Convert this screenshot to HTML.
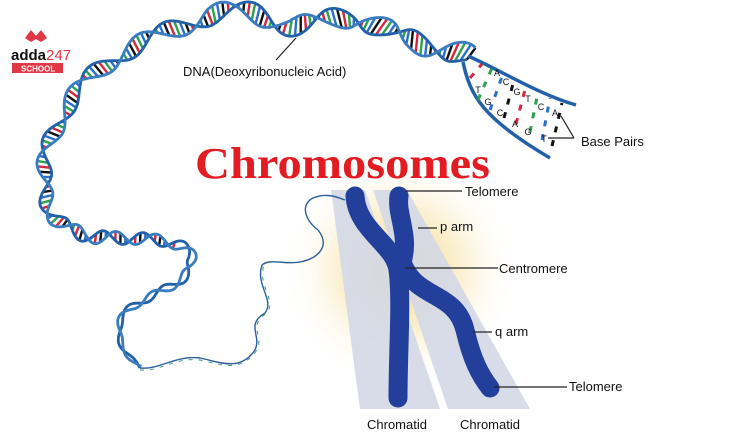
<!DOCTYPE html>
<html><head><meta charset="utf-8"><style>
html,body{margin:0;padding:0;background:#fff;width:730px;height:434px;overflow:hidden}
svg{display:block}
text{font-family:"Liberation Sans",Arial,sans-serif;fill:#111}
</style></head><body>
<svg id="s" width="730" height="434" viewBox="0 0 730 434" xmlns="http://www.w3.org/2000/svg">
<defs>
<radialGradient id="glow" cx="400" cy="270" r="120" gradientUnits="userSpaceOnUse">
<stop offset="0" stop-color="#f2cf6a" stop-opacity="0.9"/>
<stop offset="0.5" stop-color="#f6e0a0" stop-opacity="0.5"/>
<stop offset="1" stop-color="#fff" stop-opacity="0"/>
</radialGradient>
</defs>
<circle cx="400" cy="270" r="125" fill="url(#glow)"/>
<polygon points="331,190 365,190 440,409 360,409" fill="#d3d8e6" opacity="0.9"/>
<polygon points="373,190 407,190 530,409 448,409" fill="#d3d8e6" opacity="0.9"/>
<!-- thin strand -->
<path d="M140,368 C160,370 175,355 200,358 C220,362 240,372 255,350 C262,335 245,325 265,313 C275,300 255,285 262,265 C270,258 285,265 300,262 C320,258 330,245 318,230 C305,220 300,205 313,198 C325,193 335,196 345,200" fill="none" stroke="#2c5f9a" stroke-width="1.4"/>
<path d="M140,370 C160,372 175,357 200,360 C220,364 240,374 257,350 C264,335 247,325 267,313 C277,300 257,285 264,265" fill="none" stroke="#3a9a7a" stroke-width="1" stroke-dasharray="4 6"/>
<g id="helix"></g>
<!-- chromosome -->
<path d="M355,196 C357,230 395,245 398,270 C402,300 398,350 398,398" fill="none" stroke="#213f9b" stroke-width="19" stroke-linecap="round"/>
<path d="M399,196 C396,215 410,235 402,262 C415,300 455,290 465,330 C472,360 480,375 490,388" fill="none" stroke="#213f9b" stroke-width="19" stroke-linecap="round"/>
<g stroke="#222" stroke-width="1.2">
<line x1="406" y1="191" x2="462" y2="191"/>
<line x1="418" y1="228" x2="437" y2="228"/>
<line x1="405" y1="268" x2="498" y2="268"/>
<line x1="473" y1="332" x2="492" y2="332"/>
<line x1="494" y1="387" x2="567" y2="387"/>
<line x1="296" y1="38" x2="276" y2="60"/>
<line x1="561" y1="116" x2="574" y2="138"/>
<line x1="548" y1="138" x2="574" y2="138"/>
</g>
<text x="465" y="196" font-size="13">Telomere</text>
<text x="440" y="231" font-size="13">p arm</text>
<text x="499" y="273" font-size="13">Centromere</text>
<text x="495" y="336" font-size="13">q arm</text>
<text x="569" y="391" font-size="13">Telomere</text>
<text x="367" y="429" font-size="13">Chromatid</text>
<text x="460" y="429" font-size="13">Chromatid</text>
<text x="183" y="76" font-size="13">DNA(Deoxyribonucleic Acid)</text>
<text x="581" y="146" font-size="13">Base Pairs</text>
<g font-size="9" text-anchor="middle">
<text x="478" y="93">T</text><text x="497" y="76">A</text><text x="488" y="105">G</text><text x="506" y="85">C</text><text x="517" y="95">G</text><text x="500" y="116">C</text><text x="528" y="102">T</text><text x="541" y="110">C</text><text x="515" y="127">A</text><text x="528" y="135">G</text><text x="555" y="116">A</text><text x="544" y="142">T</text>
</g>
<text x="195" y="178" font-weight="bold" font-size="44" style="fill:#e31b23;font-family:'Liberation Serif',serif" textLength="295" lengthAdjust="spacingAndGlyphs">Chromosomes</text>
<!-- logo -->
<path d="M25,38 L31,30 L36,36 L41,30 L47,38 L41,42 L36,39 L31,42 Z" fill="#e23744"/>
<text x="11" y="60" font-size="15" font-weight="bold">adda<tspan style="fill:#e23744" font-weight="normal">247</tspan></text>
<rect x="12" y="63" width="51" height="10" fill="#e23744"/>
<text x="21" y="71.5" font-size="8" font-weight="bold" style="fill:#fff">SCHOOL</text>
</svg>
<script>
(function(){
var ns="http://www.w3.org/2000/svg";
var g=document.getElementById("helix");
var svg=document.getElementById("s");
var cols=["#d6263b","#2aa14b","#2a6fc9","#111"];
function mk(tag,attrs){var e=document.createElementNS(ns,tag);for(var k in attrs)e.setAttribute(k,attrs[k]);g.appendChild(e);return e;}
var c=document.createElementNS(ns,"path");
c.setAttribute("d","M140,368 C115,345 110,320 135,305 C160,290 195,280 192,258 C188,240 150,238 115,238 C85,238 60,230 50,210 C40,185 42,160 55,130 C70,95 90,75 115,58 C140,42 170,30 210,15 C250,5 270,20 290,25 C320,30 340,12 360,17 C380,22 390,40 410,42 C440,45 452,46 468,58");
svg.appendChild(c);var L=c.getTotalLength();
var s1="",s2="",rungs=[];var N=700,k=0,ph=0,prev=0;
for(var i=0;i<=N;i++){
 var t=i/N,d=t*L;var p=c.getPointAtLength(d),q=c.getPointAtLength(Math.min(L,d+1)),q0=c.getPointAtLength(Math.max(0,d-1));
 var dx=q.x-q0.x,dy=q.y-q0.y,m=Math.hypot(dx,dy)||1;var nx=-dy/m,ny=dx/m;
 var w=t<0.3?2+(t/0.3)*5:7+(t-0.3)/0.7*6;
 var period=t<0.3?40:40+Math.min(1,(t-0.3)/0.2)*45;
 ph+=(d-prev)*2*Math.PI/period;prev=d;
 var a=Math.sin(ph)*w,b=Math.sin(ph+2.0)*w;
 var x1=p.x+nx*a,y1=p.y+ny*a,x2=p.x+nx*b,y2=p.y+ny*b;
 s1+=(i?"L":"M")+x1.toFixed(1)+","+y1.toFixed(1);
 s2+=(i?"L":"M")+x2.toFixed(1)+","+y2.toFixed(1);
 if(i%4==0&&t>0.2){rungs.push([x1,y1,x2,y2,cols[k%4]]);k++;}
}
c.remove();
rungs.forEach(function(r){mk("line",{x1:r[0],y1:r[1],x2:r[2],y2:r[3],stroke:r[4],"stroke-width":"2.4"});});
mk("path",{d:s1,fill:"none",stroke:"#2260a8","stroke-width":"2.8"});
mk("path",{d:s2,fill:"none",stroke:"#3a7cc0","stroke-width":"2.8"});
mk("path",{d:"M468,56 C500,70 540,95 576,105",fill:"none",stroke:"#2260a8","stroke-width":"3.5"});
mk("path",{d:"M463,62 C470,95 482,118 550,158",fill:"none",stroke:"#2260a8","stroke-width":"3.5"});
var br=[[470,78,482,64],[478,100,492,68],[490,110,503,74],[504,118,514,80],[516,124,526,86],[530,132,538,92],[542,140,550,98],[552,146,562,103]];
br.forEach(function(r,i){mk("line",{x1:r[0],y1:r[1],x2:r[2],y2:r[3],stroke:cols[i%4],"stroke-width":"3","stroke-dasharray":"6 8"});});
})();
</script>
</body></html>
